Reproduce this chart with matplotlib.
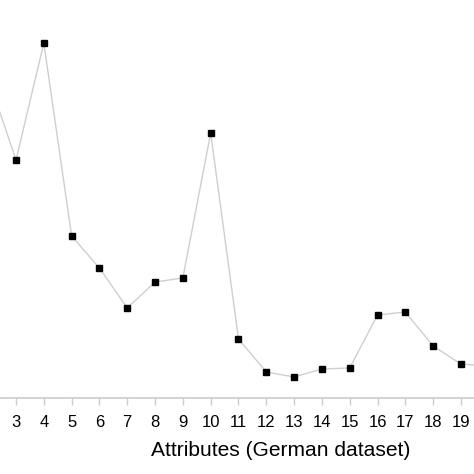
import numpy as np
import matplotlib.pyplot as plt

# attribute index and score (left and right points are cut off)
attributes = [2, 3, 4, 5, 6, 7, 8, 9, 10, 11, 12, 13, 14, 15, 16, 17, 18, 19, 20]
scores = [0.640, 0.476, 0.710, 0.324, 0.260, 0.180, 0.232, 0.240, 0.530, 0.118,
          0.052, 0.042, 0.058, 0.060, 0.166, 0.172, 0.104, 0.068, 0.064]
tick_labels = [str(i) for i in range(3, 20)]

plt.rcParams['font.family'] = ['Liberation Sans', 'DejaVu Sans']

fig = plt.figure(figsize=(4.74, 4.74), dpi=100)
# axes reach past the figure edges, the original is a crop
ax = fig.add_axes([0, 76 / 474, 1, 398 / 474])

ax.plot(attributes, scores, color='#cfcfcf', linewidth=1.0, zorder=1)
ax.plot(attributes, scores, linestyle='none', marker='s', markersize=4,
        color='black', zorder=2)

ax.set_xlim(2.424, 19.47)
ax.set_ylim(0, 0.796)

ax.set_xticks(range(3, 20))
ax.set_xticklabels(tick_labels, fontsize=12)
ax.set_yticks([])
ax.tick_params(axis='x', length=5, width=1, color='#cccccc', pad=7)

for side in ['top', 'left', 'right']:
    ax.spines[side].set_visible(False)
ax.spines['bottom'].set_color('#cccccc')
ax.spines['bottom'].set_linewidth(1.2)

ax.set_xlabel('Attributes (German dataset)', fontsize=15.1)
ax.xaxis.set_label_coords(0.592, -0.108)

fig.savefig('out.png', dpi=100)
